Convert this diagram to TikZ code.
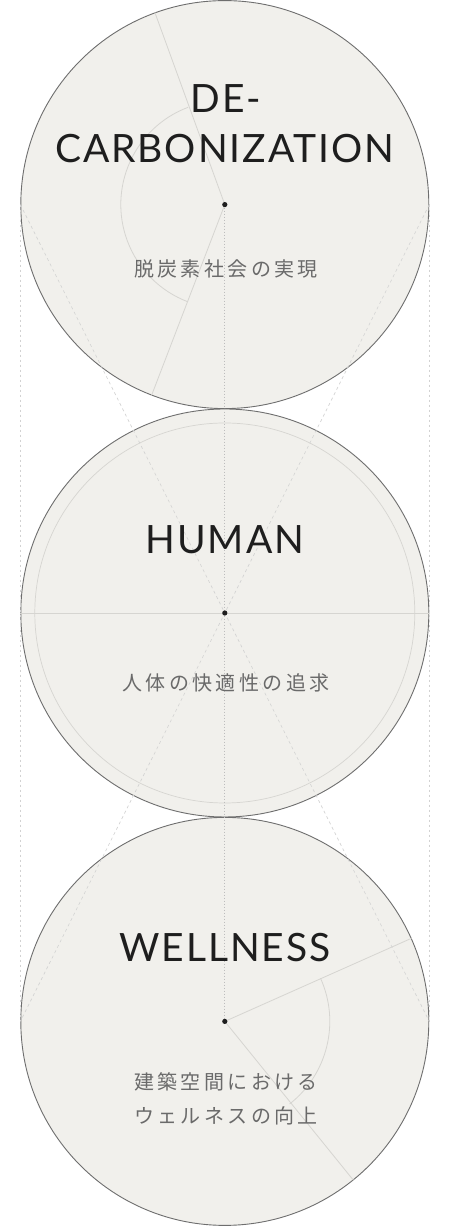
\documentclass[tikz,border=0pt]{standalone}
\usepackage{fontspec}
\setmainfont{Lato}
\newfontfamily\titlefont[LetterSpace=5]{Lato}
\newfontfamily\jpfont[LetterSpace=17]{Noto Sans CJK JP}
\definecolor{circfill}{HTML}{F1F0EC}
\definecolor{circline}{HTML}{6E6E6E}
\definecolor{guide}{HTML}{D6D5D1}
\definecolor{dotline}{HTML}{BDBDBD}
\definecolor{sideline}{HTML}{D2D2D2}
\definecolor{titlecol}{HTML}{1E1E1E}
\definecolor{subcol}{HTML}{6A6A6A}
\begin{document}
\begin{tikzpicture}[x=1pt,y=1pt,
  bigcirc/.style={circle,minimum size=408pt,inner sep=0pt,fill=circfill,draw=circline,line width=0.9pt},
  guideline/.style={draw=guide,line width=0.8pt},
  centerline/.style={draw=dotline,line width=0.9pt,dash pattern=on 1.5pt off 1.5pt},
  sidedash/.style={draw=sideline,line width=0.6pt,dash pattern=on 2.5pt off 2.5pt},
  diagdash/.style={draw=sideline,line width=0.6pt,dash pattern=on 3pt off 3pt},
  titletext/.style={font=\titlefont\fontsize{39}{44}\selectfont,text=titlecol,inner sep=0pt,anchor=base},
  subtext/.style={font=\jpfont\fontsize{20}{34}\selectfont,text=subcol,inner sep=0pt,align=center},
  cdot/.style={circle,fill=titlecol,inner sep=0pt,minimum size=5.2pt}]
\useasboundingbox (0,0) rectangle (450,1226);
\fill[white] (0,0) rectangle (450,1226);
% circles
\node[bigcirc] (c1) at (224.8,1021.4) {};
\node[bigcirc] (c2) at (224.8,613) {};
\node[bigcirc] (c3) at (224.8,204.6) {};
% guide lines circle 1
\draw[guideline] (c1.center) -- (c1.110.7);
\draw[guideline] (c1.center) -- (c1.249.3);
\draw[guideline] ([shift={(110.7:104)}]c1.center) arc[start angle=110.7,end angle=249.3,radius=104];
% guide lines circle 2
\draw[guideline] (c2.west) -- (c2.east);
\draw[guideline,line width=0.7pt] (c2.center) circle[radius=190];
% guide lines circle 3
\draw[guideline] (c3.center) -- (c3.24.3);
\draw[guideline] (c3.center) -- (c3.-51.9);
\draw[guideline] ([shift={(-51.9:105)}]c3.center) arc[start angle=-51.9,end angle=24.3,radius=105];
% dashed construction lines
\draw[sidedash] (c1.west) -- (c3.west);
\draw[sidedash] (c1.east) -- (c3.east);
\draw[diagdash] (c1.west) -- (c3.east);
\draw[diagdash] (c1.east) -- (c3.west);
\draw[centerline] (c1.center) -- (c3.center);
% titles
\node[titletext] (t1a) at (226,1113) {DE-};
\node[titletext] (t1b) at (224.8,1063) {CARBONIZATION};
\node[titletext] (t2) at (224.8,672) {HUMAN};
\node[titletext] (t3) at (224.8,264) {WELLNESS};
% subtitles
\node[subtext] (s1) at (226,957) {脱炭素社会の実現};
\node[subtext] (s2) at (226,543) {人体の快適性の追求};
\node[subtext] (s3) at (226,127) {建築空間における\\ウェルネスの向上};
% center dots
\node[cdot] (d1) at (c1.center) {};
\node[cdot] (d2) at (c2.center) {};
\node[cdot] (d3) at (c3.center) {};
\end{tikzpicture}
\end{document}
